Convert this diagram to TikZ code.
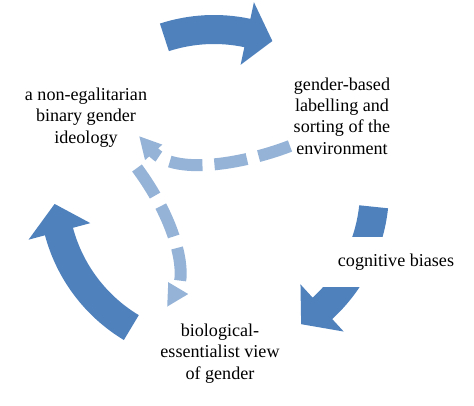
\documentclass[tikz,border=0pt]{standalone}
\usepackage{fontspec}
\setmainfont{Liberation Serif}
\usetikzlibrary{arrows.meta}

\definecolor{cycleblue}{RGB}{79,129,189}
\definecolor{linkblue}{RGB}{149,179,215}

\begin{document}
\begin{tikzpicture}[x=0.02cm,y=0.02cm,
		stage/.style={align=center,inner sep=0pt,font=\fontsize{10.3}{12.2}\selectfont},
		bigarrow/.style={fill=cycleblue},
		link/.style={draw=linkblue,line width=0.24cm,dash pattern=on 0.66cm off 0.24cm,
			-{Triangle[width=0.43cm,length=0.44cm]}}]
			
			\useasboundingbox (-214,-216) rectangle (260,190);
			
			\newcommand{\InnerR}{146}
			\newcommand{\OuterR}{175}
			\newcommand{\HeadIn}{128}
			\newcommand{\HeadOut}{192}
			\newcommand{\TipR}{160}
			% start angle, head base, tip
			\newcommand{\CycleArrow}[3]{%
				\fill[bigarrow] (#1:\OuterR) arc[start angle=#1,end angle=#2,radius=\OuterR]
					-- (#2:\HeadOut) -- (#3:\TipR) -- (#2:\HeadIn) -- (#2:\InnerR)
					arc[start angle=#2,end angle=#1,radius=\InnerR] -- cycle;}
			
			\CycleArrow{108}{78}{68.6}% top
			\CycleArrow{-6}{-47.5}{-57}% right
			\CycleArrow{239}{195}{185}% left
			
			\node[stage] (ideology) at (-128,72.5) {a non-egalitarian\\binary gender\\ideology};
			\node[stage] (sorting) at (128,74) {gender-based\\labelling and\\sorting of the\\environment};
			\node[stage,fill=white,inner xsep=0.3cm,minimum height=1cm] (biases) at (182,-72) {cognitive biases};
			\node[stage] (essential) at (6,-163.5) {biological-\\essentialist view\\of gender};
			
			\coordinate (sortout) at (76,44);
			\coordinate (ideoin) at (-75,54);
			\coordinate (ideoout) at (-77,22);
			\coordinate (essin) at (-47,-117);
			
			\draw[link] (sortout) .. controls (26,25) and (-40,15) .. (ideoin);
			\draw[link] (ideoout) .. controls (-35,-35) and (-28,-85) .. (essin);
		\end{tikzpicture}
\end{document}
